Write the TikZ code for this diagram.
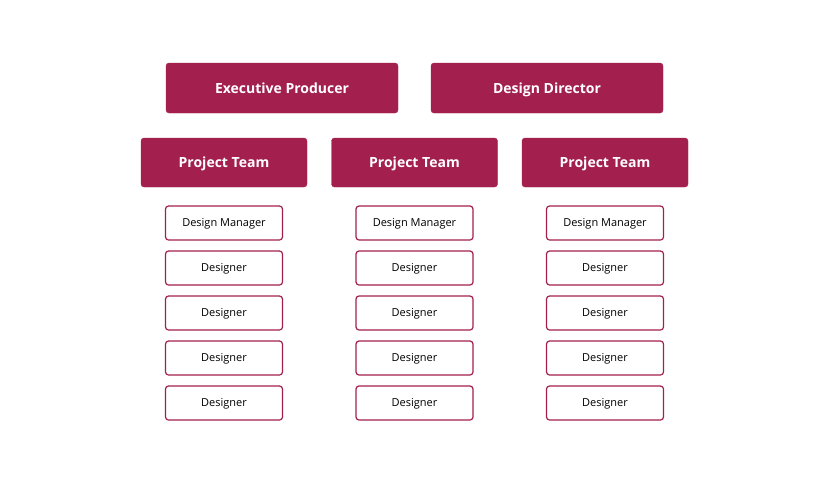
\documentclass[tikz,border=0pt]{standalone}
\usepackage{fontspec}
\setmainfont{Open Sans}
\definecolor{berry}{HTML}{A3204E}
\begin{document}
\begin{tikzpicture}[x=1pt,y=-1pt,
  bigbox/.style={fill=berry,draw=berry,rounded corners=3pt,text=white,font=\fontsize{14}{16}\selectfont\bfseries,inner sep=0pt,text height=10.2pt,text depth=0pt},
  smallbox/.style={fill=white,draw=berry,line width=1.2pt,rounded corners=3pt,text=black,font=\fontsize{11}{13}\selectfont,minimum width=117pt,minimum height=34pt,inner sep=0pt,text height=6pt,text depth=0pt}]
\useasboundingbox (0,0) rectangle (828,480);
\node[bigbox,minimum width=232pt,minimum height=50pt] (ep) at (282,88) {Executive Producer};
\node[bigbox,minimum width=232pt,minimum height=50pt] (dd) at (547,88) {Design Director};
\foreach \c/\n in {224/a,414.5/b,605/c}{
  \node[bigbox,minimum width=166pt,minimum height=49pt] (pt\n) at (\c,162.5) {Project Team};
  \node[smallbox] (dm\n) at (\c,223) {Design Manager};
  \foreach \i in {1,...,4}{
    \node[smallbox] (d\n\i) at (\c,223+45*\i) {Designer};
  }
}
\end{tikzpicture}
\end{document}
